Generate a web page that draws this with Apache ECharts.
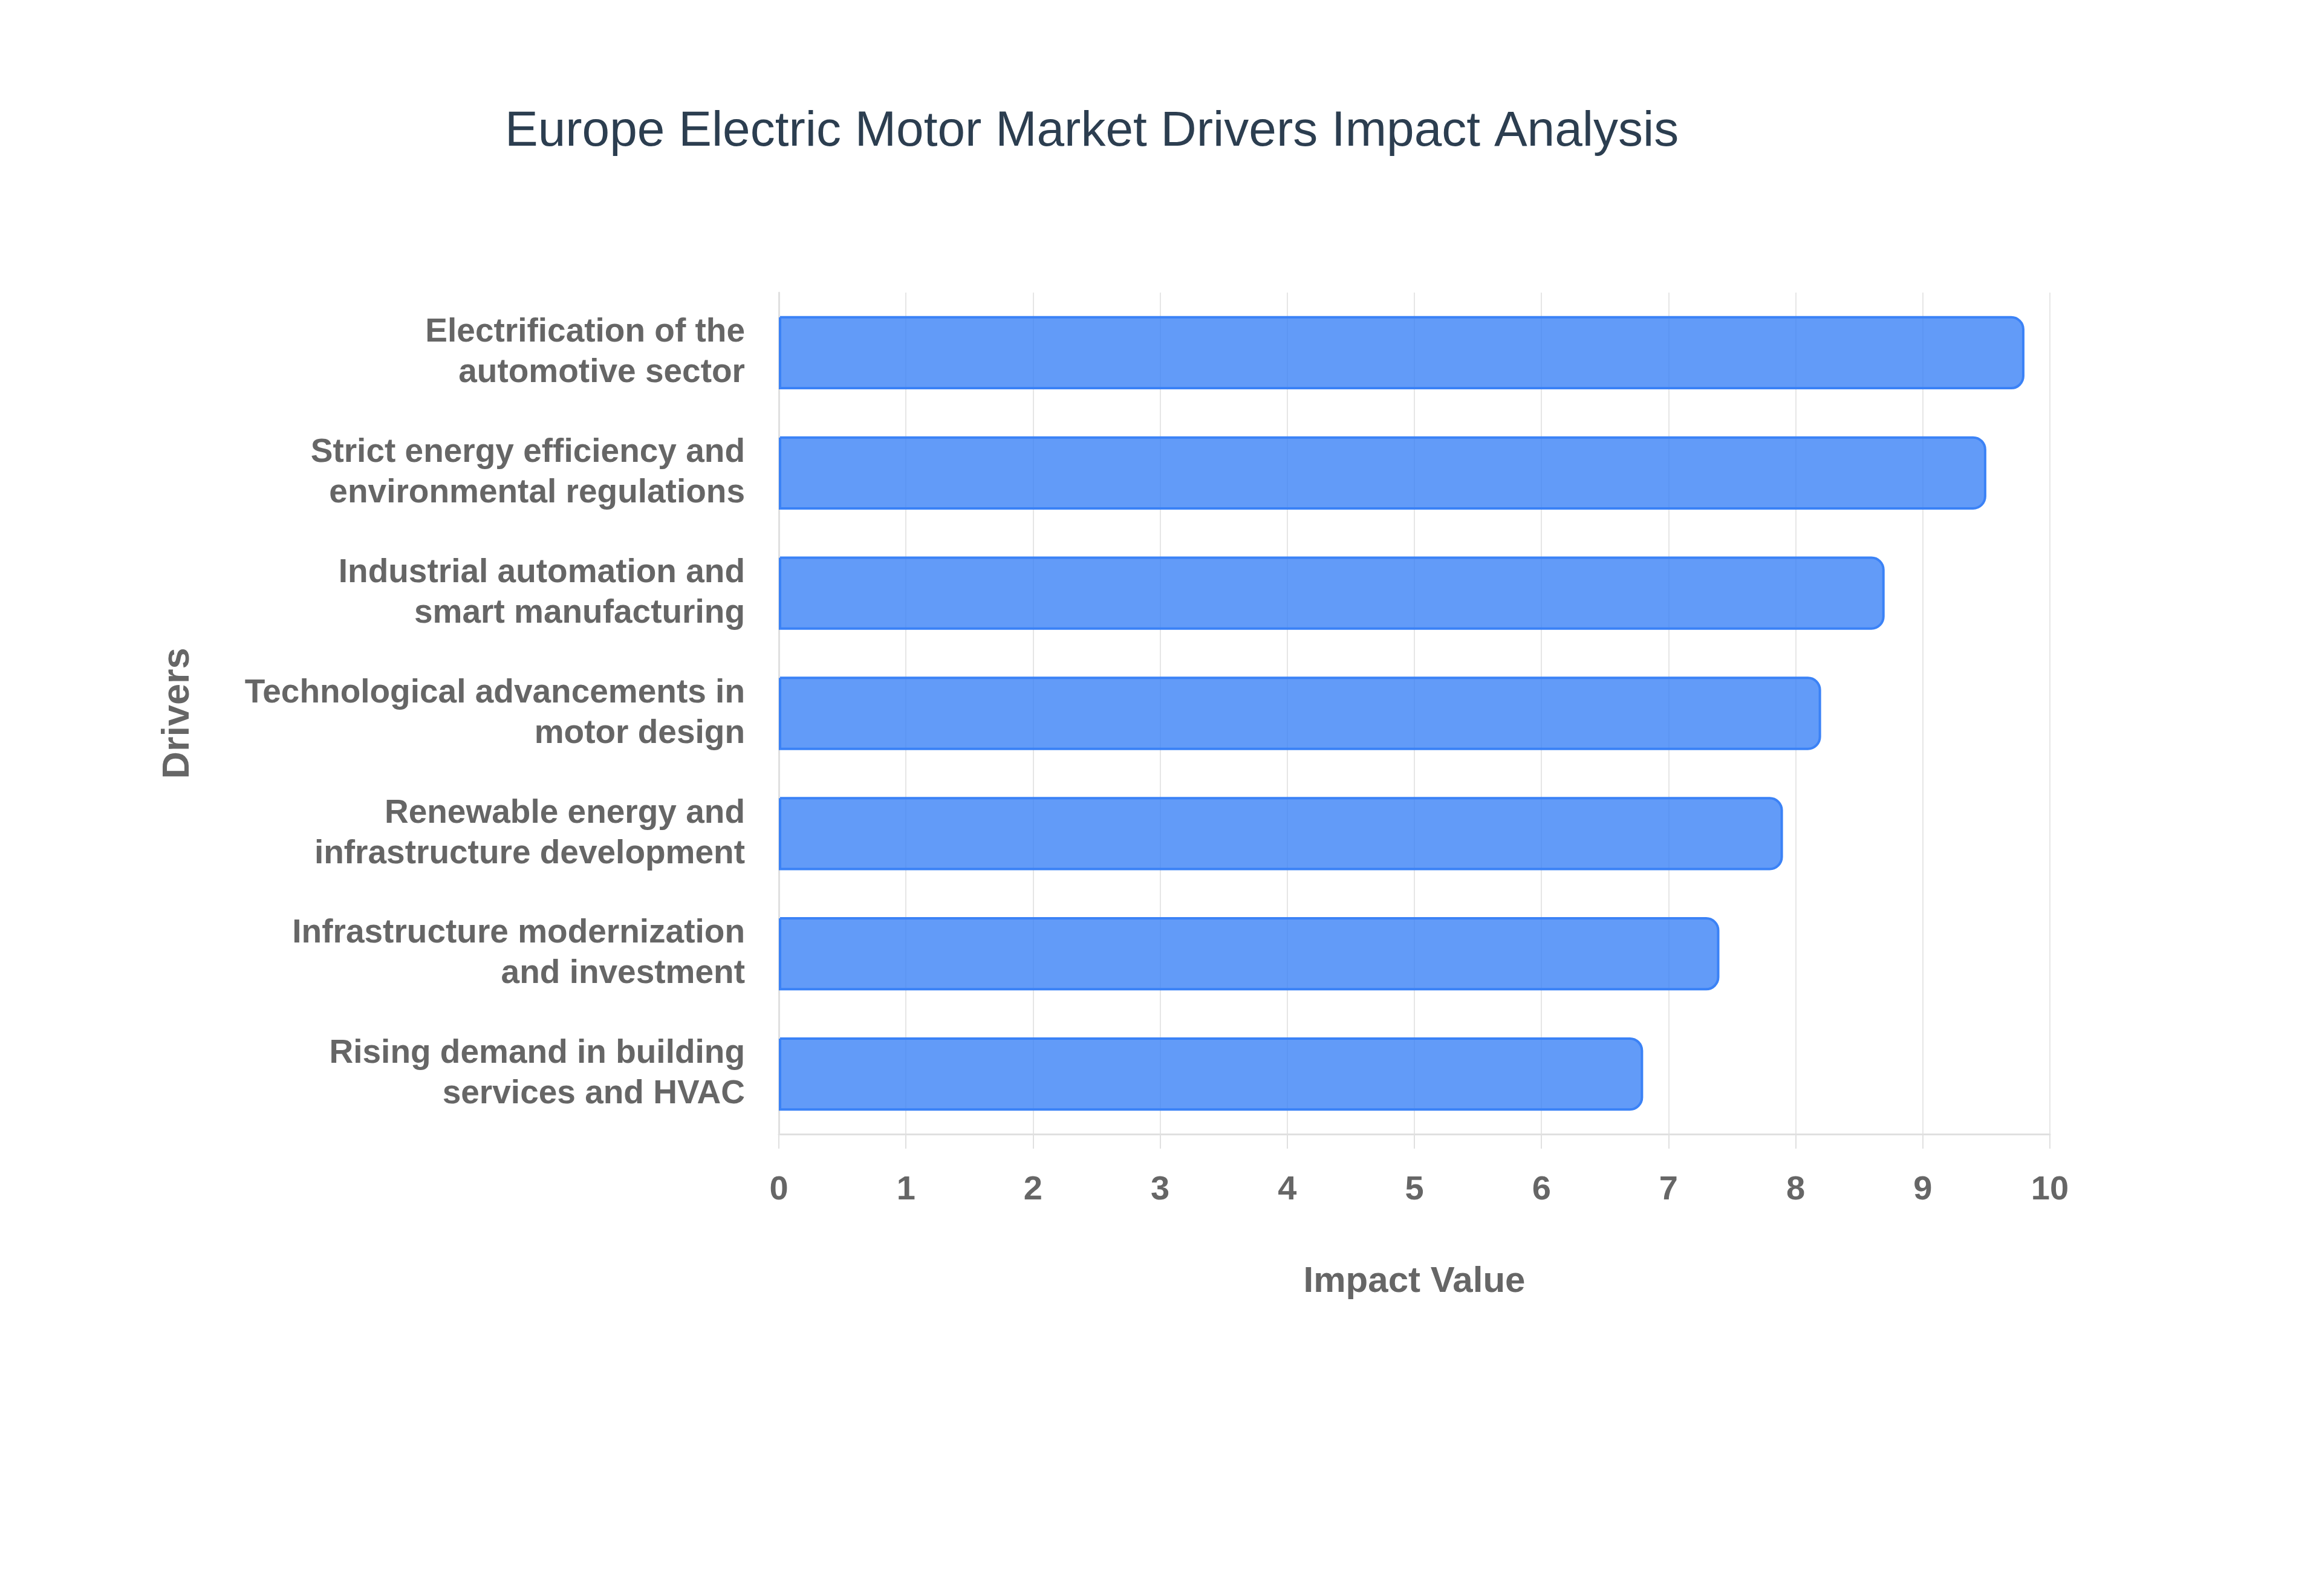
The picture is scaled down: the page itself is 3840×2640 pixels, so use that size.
<!DOCTYPE html>
<html>
<head>
<meta charset="utf-8">
<script src="https://cdn.jsdelivr.net/npm/echarts@6/dist/echarts.min.js"></script>
<style>
html,body{margin:0;padding:0;background:#fff;}
#chart{width:3840px;height:2640px;}
</style>
</head>
<body>
<div id="chart"></div>
<script>
const titleText = 'Europe Electric Motor Market Drivers Impact Analysis';
const drivers = [
  'Electrification of the\nautomotive sector',
  'Strict energy efficiency and\nenvironmental regulations',
  'Industrial automation and\nsmart manufacturing',
  'Technological advancements in\nmotor design',
  'Renewable energy and\ninfrastructure development',
  'Infrastructure modernization\nand investment',
  'Rising demand in building\nservices and HVAC'
];
const impactValues = [9.8, 9.5, 8.7, 8.2, 7.9, 7.4, 6.8];
const xAxisName = 'Impact Value';
const yAxisName = 'Drivers';

const FONT = "'Liberation Sans', Arial, Helvetica, sans-serif";
const chart = echarts.init(document.getElementById('chart'), null, {renderer: 'canvas'});
chart.setOption({
  backgroundColor: '#ffffff',
  animation: false,
  title: {
    text: titleText,
    left: 830,
    top: 172,
    textStyle: {fontFamily: FONT, fontSize: 82, fontWeight: 'normal', color: '#2c3e50'}
  },
  grid: {left: 1288, right: 450, top: 484, bottom: 764, containLabel: false},
  xAxis: {
    type: 'value',
    min: 0,
    max: 10,
    interval: 1,
    name: xAxisName,
    nameLocation: 'middle',
    nameGap: 214,
    nameTextStyle: {fontFamily: FONT, fontSize: 60, fontWeight: 'bold', color: '#666666'},
    axisLine: {show: true, lineStyle: {color: '#e0e0e0', width: 3}},
    axisTick: {show: true, length: 24, lineStyle: {color: '#e0e0e0', width: 2}},
    axisLabel: {fontFamily: FONT, fontSize: 56, fontWeight: 'bold', color: '#666666', margin: 65},
    splitLine: {show: true, lineStyle: {color: '#e6e6e6', width: 2}}
  },
  yAxis: {
    type: 'category',
    data: drivers,
    inverse: true,
    name: yAxisName,
    nameLocation: 'middle',
    nameGap: 962,
    nameRotate: 90,
    nameTextStyle: {fontFamily: FONT, fontSize: 63, fontWeight: 'bold', color: '#666666'},
    axisLine: {show: true, lineStyle: {color: '#e0e0e0', width: 3}},
    axisTick: {show: false},
    axisLabel: {fontFamily: FONT, fontSize: 55, lineHeight: 67, fontWeight: 'bold', color: '#666666', margin: 56, align: 'right'},
    splitLine: {show: false}
  },
  series: [{
    type: 'bar',
    data: impactValues,
    barCategoryGap: '39%',
    itemStyle: {
      color: 'rgba(59,130,246,0.8)',
      borderColor: '#3b82f6',
      borderWidth: 4,
      borderRadius: [0, 20, 20, 0]
    }
  }]
});
</script>
</body>
</html>
